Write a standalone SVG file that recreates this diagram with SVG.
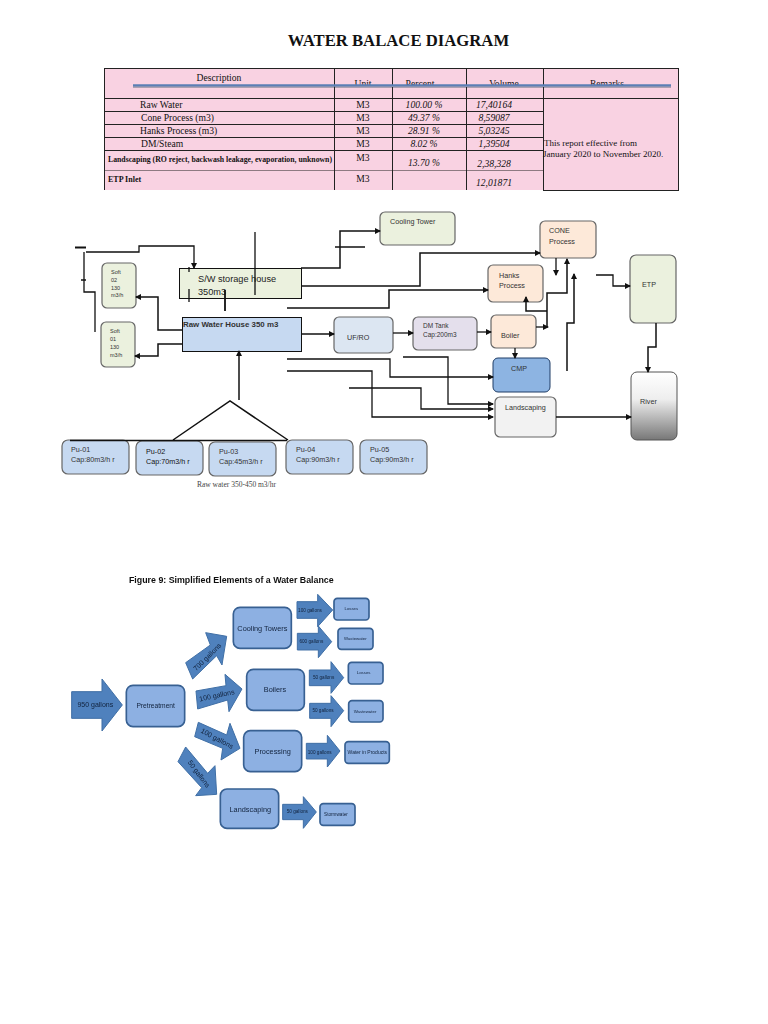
<svg xmlns="http://www.w3.org/2000/svg" width="768" height="1024" viewBox="0 0 768 1024">
<style>
text{font-family:"Liberation Sans",Arial,sans-serif;fill:#222}
.s{font-family:"Liberation Serif","Times New Roman",serif;font-size:9.600px;fill:#111}
.i{font-style:italic}
.c{text-anchor:middle}
.cell{fill:#f9d2e2;stroke:#222;stroke-width:1}
.n{stroke:#666;stroke-width:1.2}
.green{fill:#ebf1de}.blue{fill:#c6d9f1}.peach{fill:#fde9d9}
.t{font-size:7.200px;fill:#333}
.w{fill:none;stroke:#111;stroke-width:1.3}
.a{marker-end:url(#ar)}
.box{fill:#8db0e2;stroke:#376092;stroke-width:5}
.arr{fill:#4f81bd;stroke:#3f6ea5;stroke-width:3}
.f{fill:#12233d;text-anchor:middle;font-size:20px}
</style>
<defs>
<marker id="ar" markerWidth="6" markerHeight="6" refX="5" refY="3" orient="auto" markerUnits="userSpaceOnUse"><path d="M0 0L6 3L0 6Z" fill="#111"/></marker>
<linearGradient id="riv" x1="0" y1="0" x2="0" y2="1"><stop offset="0" stop-color="#fff"/><stop offset=".4" stop-color="#eee"/><stop offset="1" stop-color="#777"/></linearGradient>
<filter id="soft"><feGaussianBlur stdDeviation="1"/></filter>
</defs>
<rect width="768" height="1024" fill="#fff"/>
<text x="398.500" y="46" text-anchor="middle" style="font-family:'Liberation Serif',serif;font-weight:bold;font-size:16.700px;fill:#111">WATER BALACE DIAGRAM</text>

<g id="table">
<rect class="cell" x="104.500" y="68.500" width="230" height="30"/>
<rect class="cell" x="334.500" y="68.500" width="58" height="30"/>
<rect class="cell" x="392.500" y="68.500" width="74" height="30"/>
<rect class="cell" x="466.500" y="68.500" width="77" height="30"/>
<rect class="cell" x="543.500" y="68.500" width="135" height="30"/>
<rect class="cell" x="543.500" y="98.500" width="135" height="92"/>
<g>
<rect class="cell" x="104.500" y="98.500" width="230" height="13"/><rect class="cell" x="334.500" y="98.500" width="58" height="13"/><rect class="cell" x="392.500" y="98.500" width="74" height="13"/><rect class="cell" x="466.500" y="98.500" width="77" height="13"/>
<rect class="cell" x="104.500" y="111.500" width="230" height="13"/><rect class="cell" x="334.500" y="111.500" width="58" height="13"/><rect class="cell" x="392.500" y="111.500" width="74" height="13"/><rect class="cell" x="466.500" y="111.500" width="77" height="13"/>
<rect class="cell" x="104.500" y="124.500" width="230" height="13"/><rect class="cell" x="334.500" y="124.500" width="58" height="13"/><rect class="cell" x="392.500" y="124.500" width="74" height="13"/><rect class="cell" x="466.500" y="124.500" width="77" height="13"/>
<rect class="cell" x="104.500" y="137.500" width="230" height="13"/><rect class="cell" x="334.500" y="137.500" width="58" height="13"/><rect class="cell" x="392.500" y="137.500" width="74" height="13"/><rect class="cell" x="466.500" y="137.500" width="77" height="13"/>
<rect class="cell" x="104.500" y="150.500" width="230" height="20"/><rect class="cell" x="334.500" y="150.500" width="58" height="20"/><rect class="cell" x="392.500" y="150.500" width="74" height="20"/><rect class="cell" x="466.500" y="150.500" width="77" height="20"/>
</g>
<path d="M104 170.500H543V190H104Z" fill="#f9d2e2"/>
<path d="M104.500 170V190M334.500 170V190M392.500 170V190M466.500 170V190" stroke="#222" fill="none"/>
<text class="s c" x="219" y="80.500">Description</text>
<text class="s c" x="363" y="87">Unit</text><text class="s c" x="420" y="87">Percent</text><text class="s c" x="504" y="87">Volume</text><text class="s c" x="607" y="87">Remarks</text>
<rect x="335" y="86" width="343" height="6" fill="#f9d2e2"/>
<path d="M133 85.500H671" stroke="#5b7fb5" stroke-width="2.500"/>
<path d="M133 87.200H671" stroke="#8a8a9a" stroke-width="1"/>
<path d="M334.500 87V98M392.500 87V98M466.500 87V98M543.500 87V98" stroke="#222"/>
<text class="s" x="140" y="108">Raw Water</text><text class="s c" x="363" y="108">M3</text><text class="s i c" x="424" y="108">100.00 %</text><text class="s i c" x="494" y="108">17,40164</text>
<text class="s" x="141" y="121">Cone Process (m3)</text><text class="s c" x="363" y="121">M3</text><text class="s i c" x="424" y="121">49.37 %</text><text class="s i c" x="494" y="121">8,59087</text>
<text class="s" x="140" y="134">Hanks Process (m3)</text><text class="s c" x="363" y="134">M3</text><text class="s i c" x="424" y="134">28.91 %</text><text class="s i c" x="494" y="134">5,03245</text>
<text class="s" x="141" y="147">DM/Steam</text><text class="s c" x="363" y="147">M3</text><text class="s i c" x="424" y="147">8.02 %</text><text class="s i c" x="494" y="147">1,39504</text>
<text class="s" x="108" y="162" style="font-size:7.800px;font-weight:bold" textLength="224" lengthAdjust="spacingAndGlyphs">Landscaping (RO reject, backwash leakage, evaporation, unknown)</text><text class="s c" x="363" y="161">M3</text><text class="s i c" x="424" y="166">13.70 %</text><text class="s i c" x="494" y="167">2,38,328</text>
<text class="s" x="108" y="182" style="font-size:8px;font-weight:bold">ETP Inlet</text><text class="s c" x="363" y="182">M3</text><text class="s i c" x="494" y="186">12,01871</text>
<text class="s" x="544" y="146" style="font-size:9px">This report effective from</text>
<text class="s" x="543" y="157" style="font-size:9px">January 2020 to November 2020.</text>
</g>

<g id="node-cooling-tower"><rect class="n green" x="380" y="212" width="75" height="33" rx="5"/><text class="t" x="390" y="224">Cooling Tower</text></g>
<g id="node-cone"><rect class="n peach" x="540" y="221" width="56" height="37" rx="5"/><text class="t" x="549" y="233">CONE</text><text class="t" x="549" y="244">Process</text></g>
<g id="node-hanks"><rect class="n peach" x="488" y="265" width="55" height="37" rx="5"/><text class="t" x="499" y="278">Hanks</text><text class="t" x="499" y="288">Process</text></g>
<g id="node-etp"><rect class="n green" x="630" y="255" width="46" height="68" rx="6"/><text class="t" x="642" y="287">ETP</text></g>
<g id="node-river"><rect x="631" y="372" width="46" height="68" rx="6" fill="url(#riv)" stroke="#555" stroke-width="1"/><text class="t" x="640" y="404">River</text></g>
<g id="node-boiler"><rect class="n peach" x="491" y="315" width="45" height="33" rx="5"/><text class="t" x="501" y="338">Boiler</text></g>
<g id="node-dm-tank"><rect class="n" fill="#e4dfec" x="413" y="317" width="64" height="33" rx="5"/><text class="t" x="423" y="328" style="font-size:6.500px">DM Tank</text><text class="t" x="423" y="337" style="font-size:6.500px">Cap:200m3</text></g>
<g id="node-uf-ro"><rect class="n" fill="#dce6f2" x="334" y="317" width="59" height="36" rx="5"/><text class="t" x="347" y="340">UF/RO</text></g>
<g id="node-cmp"><rect x="493" y="358" width="57" height="34" rx="5" fill="#8db4e2" stroke="#1f3d66" stroke-width="1"/><text class="t" x="511" y="371">CMP</text></g>
<g id="node-landscaping"><rect class="n" fill="#f2f2f2" x="495" y="397" width="61" height="40" rx="5"/><text class="t" x="505" y="410">Landscaping</text></g>
<g id="node-sw-storage"><rect x="179.500" y="268.500" width="122" height="30" fill="#ebf1de" stroke="#111" stroke-width="1"/><text x="198" y="282" style="font-size:9.200px">S/W storage house</text><text x="198" y="295" style="font-size:9.200px">350m3</text></g>
<g id="node-raw-water"><rect x="182.500" y="317.500" width="119" height="34" fill="#c6d9f1" stroke="#111" stroke-width="1"/><text x="183" y="327" style="font-size:7.900px;font-weight:bold;fill:#333">Raw Water House 350 m3</text></g>
<g id="node-soft-02"><rect class="n green" x="102" y="263" width="34" height="45" rx="5"/><text class="t" x="111" y="274" style="font-size:5.500px">Soft</text><text class="t" x="111" y="282" style="font-size:5.500px">02</text><text class="t" x="111" y="290" style="font-size:5.500px">130</text><text class="t" x="111" y="297" style="font-size:5.500px">m3/h</text></g>
<g id="node-soft-01"><rect class="n green" x="101" y="322" width="34" height="45" rx="5"/><text class="t" x="110" y="333" style="font-size:5.500px">Soft</text><text class="t" x="110" y="341" style="font-size:5.500px">01</text><text class="t" x="110" y="349" style="font-size:5.500px">130</text><text class="t" x="110" y="357" style="font-size:5.500px">m3/h</text></g>
<g id="node-pu-01"><rect class="n blue" x="62" y="440" width="67" height="34" rx="6"/><text class="t" x="71" y="452">Pu-01</text><text class="t" x="71" y="462">Cap:80m3/h r</text></g>
<g id="node-pu-02"><rect class="n blue" x="136" y="441" width="67" height="34" rx="6" stroke="#333"/><text class="t" x="146" y="454" style="fill:#111">Pu-02</text><text class="t" x="146" y="464" style="fill:#111">Cap:70m3/h r</text></g>
<g id="node-pu-03"><rect class="n blue" x="209" y="442" width="67" height="34" rx="6"/><text class="t" x="219" y="454">Pu-03</text><text class="t" x="219" y="464">Cap:45m3/h r</text></g>
<g id="node-pu-04"><rect class="n blue" x="286" y="440" width="67" height="34" rx="6"/><text class="t" x="296" y="452">Pu-04</text><text class="t" x="296" y="462">Cap:90m3/h r</text></g>
<g id="node-pu-05"><rect class="n blue" x="360" y="440" width="67" height="34" rx="6"/><text class="t" x="370" y="452">Pu-05</text><text class="t" x="370" y="462">Cap:90m3/h r</text></g>
<text x="197" y="487" style="font-family:'Liberation Serif',serif;font-size:7.500px;fill:#444">Raw water 350-450 m3/hr</text>

<g id="connectors" class="w">
<path d="M75 247.500H86" stroke-width="2"/>
<path class="a" d="M86 252H139V246H194V268"/>
<path d="M84 252V292H95V332M81 280H86"/>
<path d="M189 267V272M189 289V302M255 232V295"/>
<path d="M225 290V311" stroke-width="1.800"/>
<path class="a" d="M301 268H340V231H380" stroke-width="1.500"/>
<path d="M335 247H365" stroke-width="1.500"/>
<path class="a" d="M301 286H420V253H540" stroke-width="1.500"/>
<path class="a" d="M287 308H389V290H488" stroke-width="1.500"/>
<path class="a" d="M182 330H158V297H136" stroke-width="1.500"/>
<path class="a" d="M182 344H158V356H135" stroke-width="1.500"/>
<path class="a" d="M302 334H334" stroke-width="1.500"/>
<path class="a" d="M393 333H413"/>
<path class="a" d="M477 332H491"/>
<path class="a" d="M536 327H548"/>
<path class="a" d="M547 327V293H567V259" stroke-width="1.500"/>
<path class="a" d="M547 311H526V297" stroke-width="1.500"/>
<path class="a" d="M556 258V275"/>
<path class="a" d="M567 371V323H574V274" stroke-width="1.500"/>
<path class="a" d="M596 275H613V286H630"/>
<path class="a" d="M656 323V347H648V372" stroke-width="1.500"/>
<path class="a" d="M515 348V358"/>
<path class="a" d="M287 359H390V377H493"/>
<path class="a" d="M287 371H372V417H493"/>
<path class="a" d="M403 357H448V404H493"/>
<path class="a" d="M349 388H421V409H493"/>
<path class="a" d="M556 417H631"/>
<path class="a" d="M239 400V351" stroke-width="1.500"/>
<path d="M70 440.500H287M173 440L230 401L288 440" stroke-width="1.500"/>
</g>

<g id="figure" transform="translate(60 565) scale(.33333)" filter="url(#soft)">
<text x="514" y="54" text-anchor="middle" style="font-size:26.500px;font-weight:bold;fill:#111">Figure 9: Simplified Elements of a Water Balance</text>
<g id="bottom-arrows">
<polygon class="arr" points="35,380 126,380 126,342 187,420 126,498 126,460 35,460"/>
<polygon class="arr" points="377,293 451,240 437,203 500,214 486,300 470,272 398,342"/>
<polygon class="arr" points="408,378 498,362 495,328 546,372 507,440 503,405 413,432"/>
<polygon class="arr" points="415,472 500,510 510,475 540,550 483,585 488,550 404,515"/>
<polygon class="arr" points="377,546 443,625 465,602 470,688 407,692 425,668 354,590"/>
<polygon class="arr" points="711,110 773,110 773,88 818,135 773,185 773,160 711,160"/>
<polygon class="arr" points="712,205 775,205 775,183 815,230 775,278 775,255 712,255"/>
<polygon class="arr" points="748,315 813,315 813,290 851,338 813,385 813,362 748,362"/>
<polygon class="arr" points="749,415 813,415 813,392 851,437 813,485 813,460 749,460"/>
<polygon class="arr" points="739,535 802,535 802,511 840,558 802,606 802,582 739,582"/>
<polygon class="arr" points="668,718 730,718 730,695 769,741 730,790 730,764 668,764"/>
</g>
<g id="fig-pretreatment"><rect class="box" x="199" y="361" width="175" height="124" rx="20"/><text class="f" x="287" y="430">Pretreatment</text></g>
<g id="fig-cooling"><rect class="box" x="520" y="127" width="174" height="123" rx="20"/><text class="f" x="607" y="197" style="font-size:22px">Cooling Towers</text></g>
<g id="fig-boilers"><rect class="box" x="560" y="313" width="173" height="123" rx="20"/><text class="f" x="645" y="382" style="font-size:22px">Boilers</text></g>
<g id="fig-processing"><rect class="box" x="551" y="497" width="174" height="123" rx="20"/><text class="f" x="638" y="567" style="font-size:22px">Processing</text></g>
<g id="fig-landscaping"><rect class="box" x="481" y="672" width="175" height="118" rx="20"/><text class="f" x="571" y="741" style="font-size:22px">Landscaping</text></g>
<g id="fig-losses-1"><rect class="box" x="822" y="100" width="105" height="65" rx="10"/><text class="f" x="874" y="136" style="font-size:13px">Losses</text></g>
<g id="fig-wastewater-1"><rect class="box" x="834" y="190" width="105" height="63" rx="10"/><text class="f" x="886" y="226" style="font-size:13px">Wastewater</text></g>
<g id="fig-losses-2"><rect class="box" x="865" y="292" width="104" height="65" rx="10"/><text class="f" x="911" y="328" style="font-size:13px">Losses</text></g>
<g id="fig-wastewater-2"><rect class="box" x="866" y="407" width="103" height="64" rx="10"/><text class="f" x="915" y="443" style="font-size:13px">Wastewater</text></g>
<g id="fig-products"><rect class="box" x="855" y="530" width="133" height="65" rx="10"/><text class="f" x="922" y="566" style="font-size:15px">Water in Products</text></g>
<g id="fig-stormwater"><rect class="box" x="780" y="716" width="105" height="65" rx="10"/><text class="f" x="828" y="754" style="font-size:14px">Stormwater</text></g>
<text class="f" x="106" y="427" style="font-size:21px">950 gallons</text>
<text class="f" transform="translate(447 281) rotate(-45)" style="font-size:21px">700 gallons</text>
<text class="f" transform="translate(472 398) rotate(-12)" style="font-size:21px">100 gallons</text>
<text class="f" transform="translate(468 527) rotate(28)" style="font-size:21px">100 gallons</text>
<text class="f" transform="translate(411 631) rotate(53)" style="font-size:21px">50 gallons</text>
<text class="f" x="750" y="141" style="font-size:14px">100 gallons</text>
<text class="f" x="754" y="235" style="font-size:14px">600 gallons</text>
<text class="f" x="791" y="342" style="font-size:14px">50 gallons</text>
<text class="f" x="789" y="442" style="font-size:14px">50 gallons</text>
<text class="f" x="779" y="566" style="font-size:14px">100 gallons</text>
<text class="f" x="712" y="744" style="font-size:14px">50 gallons</text>
</g>
</svg>
